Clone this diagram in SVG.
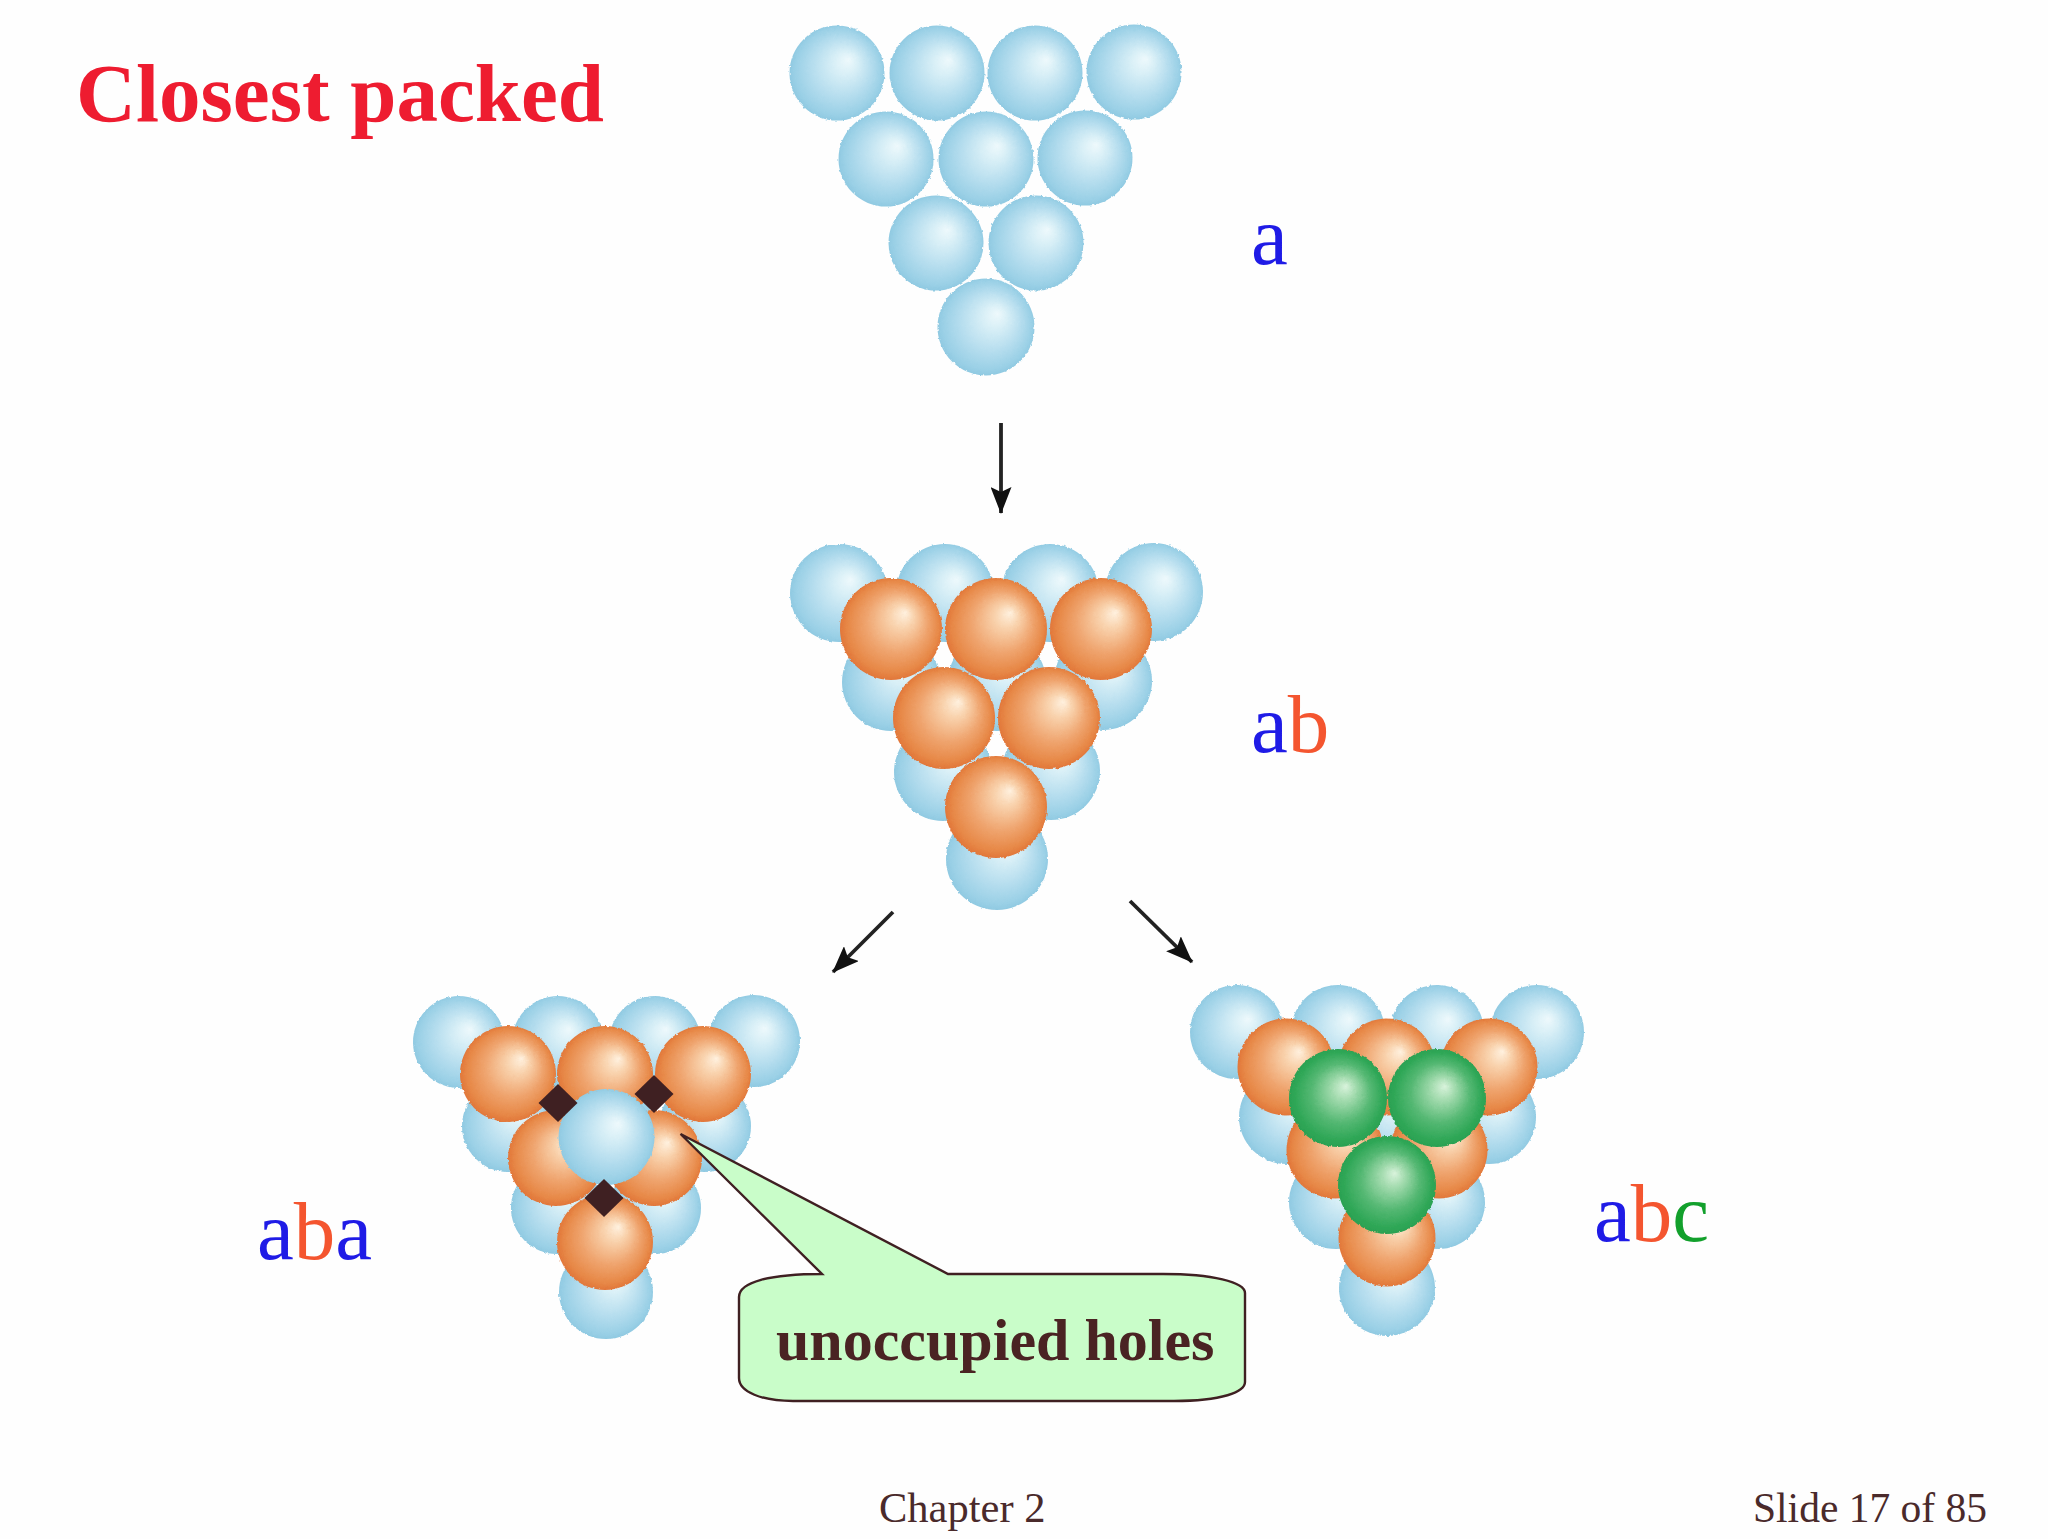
<svg xmlns="http://www.w3.org/2000/svg" width="2048" height="1539" viewBox="0 0 2048 1539">
<style>
.t{font-family:"Liberation Serif","Times New Roman",serif}
.lab{font-size:83px}
.foot{fill:#4a2a2b}
.A{fill:#1f1be6}.B{fill:#f4552f}.C{fill:#12a02c}
.conn{stroke:#222;stroke-width:3.800;fill:none;marker-end:url(#head)}
.bl{fill:url(#gb)}.or{fill:url(#go)}.gr{fill:url(#gg)}
.rough{filter:url(#rough)}
.dia{fill:#3f2022}
</style>
<defs>
<filter id="rough" x="-5%" y="-5%" width="110%" height="110%">
<feTurbulence type="fractalNoise" baseFrequency="0.3" numOctaves="2" seed="4" result="n"/>
<feDisplacementMap in="SourceGraphic" in2="n" scale="2.800" xChannelSelector="R" yChannelSelector="G"/>
</filter>
<radialGradient id="gb" cx="0.5" cy="0.5" r="0.52" fx="0.62" fy="0.36">
<stop offset="0" stop-color="#eef9fc"/><stop offset="0.22" stop-color="#daf0f7"/><stop offset="0.6" stop-color="#b5ddee"/><stop offset="0.88" stop-color="#9ad0e6"/><stop offset="1" stop-color="#8cc7e0"/>
</radialGradient>
<radialGradient id="go" cx="0.5" cy="0.5" r="0.52" fx="0.64" fy="0.34">
<stop offset="0" stop-color="#fff1df"/><stop offset="0.22" stop-color="#f9d3ae"/><stop offset="0.58" stop-color="#efa46e"/><stop offset="0.86" stop-color="#e78847"/><stop offset="1" stop-color="#e07236"/>
</radialGradient>
<radialGradient id="gg" cx="0.5" cy="0.5" r="0.52" fx="0.58" fy="0.38">
<stop offset="0" stop-color="#d9f3dc"/><stop offset="0.22" stop-color="#a5dcb0"/><stop offset="0.58" stop-color="#55b873"/><stop offset="0.86" stop-color="#2fa757"/><stop offset="1" stop-color="#2a9f50"/>
</radialGradient>
<marker id="head" viewBox="0 0 27 21" refX="26" refY="10.500" markerWidth="27" markerHeight="21" markerUnits="userSpaceOnUse" orient="auto">
<path d="M27 10.500L0 0L5 10.500L0 21Z" fill="#111"/>
</marker>
</defs>
<rect width="2048" height="1539" fill="#fefefe"/>
<g id="title"><text class="t" x="76" y="121" font-size="83" font-weight="700" fill="#ee1c30">Closest packed</text></g>

<g id="layer-a">
<g class="rough">
<g class="bl">
<circle cx="837" cy="73" r="47.500"/><circle cx="937" cy="73" r="47.500"/><circle cx="1035" cy="73" r="47.500"/><circle cx="1134" cy="72" r="47.500"/>
<circle cx="886" cy="159" r="47.500"/><circle cx="986" cy="159" r="47.500"/><circle cx="1085" cy="158" r="47.500"/>
<circle cx="936" cy="243" r="47.500"/><circle cx="1036" cy="243" r="47.500"/>
<circle cx="986" cy="327" r="48.500"/>
</g>
</g>
<text class="t lab A" x="1251" y="264">a</text>
</g>

<g id="layer-ab">
<g class="rough">
<g class="bl">
<circle cx="839" cy="593" r="49"/><circle cx="945" cy="593" r="49"/><circle cx="1050" cy="593" r="49"/><circle cx="1154" cy="592" r="49"/>
<circle cx="891" cy="682" r="49"/><circle cx="997" cy="682" r="49"/><circle cx="1103" cy="681" r="49"/>
<circle cx="943" cy="772" r="49"/><circle cx="1051" cy="771" r="49"/>
<circle cx="997" cy="859" r="51"/>
</g>
<g class="or">
<circle cx="891" cy="629" r="51"/><circle cx="996" cy="629" r="51"/><circle cx="1101" cy="629" r="51"/>
<circle cx="944" cy="718" r="51"/><circle cx="1049" cy="718" r="51"/>
<circle cx="996" cy="807" r="51"/>
</g>
</g>
<text class="t lab" x="1251" y="752"><tspan class="A">a</tspan><tspan class="B">b</tspan></text>
</g>

<g id="layer-aba">
<g class="rough">
<g class="bl">
<circle cx="459" cy="1042" r="46"/><circle cx="558" cy="1042" r="46"/><circle cx="655" cy="1042" r="46"/><circle cx="754" cy="1041" r="46"/>
<circle cx="508" cy="1126" r="46"/><circle cx="607" cy="1126" r="46"/><circle cx="705" cy="1126" r="46"/>
<circle cx="557" cy="1208" r="46"/><circle cx="655" cy="1208" r="46"/>
<circle cx="606" cy="1292" r="47"/>
</g>
<g class="or">
<circle cx="508" cy="1074" r="48"/><circle cx="605" cy="1074" r="48"/><circle cx="703" cy="1074" r="48"/>
<circle cx="556" cy="1158" r="48"/><circle cx="654" cy="1158" r="48"/>
<circle cx="605" cy="1242" r="48"/>
</g>
<circle class="bl" cx="606.500" cy="1137" r="48"/>
</g>
<path class="dia" d="M558 1084L577.500 1103L558 1122L538.500 1103Z"/>
<path class="dia" d="M654 1075L673.500 1094L654 1113L634.500 1094Z"/>
<path class="dia" d="M604 1179L623.500 1198L604 1217L584.500 1198Z"/>
<text class="t lab" x="257" y="1259"><tspan class="A">a</tspan><tspan class="B">b</tspan><tspan class="A">a</tspan></text>
</g>

<g id="layer-abc">
<g class="rough">
<g class="bl">
<circle cx="1237" cy="1032" r="47"/><circle cx="1338" cy="1032" r="47"/><circle cx="1437" cy="1032" r="47"/><circle cx="1537" cy="1032" r="47"/>
<circle cx="1286" cy="1117" r="47"/><circle cx="1387" cy="1117" r="47"/><circle cx="1489" cy="1117" r="47"/>
<circle cx="1336" cy="1202" r="47"/><circle cx="1438" cy="1202" r="47"/>
<circle cx="1387" cy="1288" r="48"/>
</g>
<g class="or">
<circle cx="1286" cy="1067" r="48.500"/><circle cx="1387" cy="1067" r="48.500"/><circle cx="1489" cy="1067" r="48.500"/>
<circle cx="1335" cy="1150" r="48.500"/><circle cx="1439" cy="1150" r="48.500"/>
<circle cx="1387" cy="1238" r="48.500"/>
</g>
<g class="gr">
<circle cx="1338" cy="1098" r="49"/><circle cx="1437" cy="1098" r="49"/>
<circle cx="1387" cy="1185" r="49"/>
</g>
</g>
<text class="t lab" x="1594" y="1241"><tspan class="A">a</tspan><tspan class="B">b</tspan><tspan class="C">c</tspan></text>
</g>

<g id="connectors">
<path class="conn" d="M1001 423L1001 513"/>
<path class="conn" d="M893 912L833 972"/>
<path class="conn" d="M1130 901L1192 962"/>
</g>

<g id="callout">
<path d="M680.600 1134L822 1274C770 1274 739 1282 739 1297L739 1378C739 1392 762 1401 793 1401L1174 1401C1222 1401 1245 1392 1245 1382L1245 1293C1245 1282 1212 1274 1163 1274L948 1274Z" fill="#c9fdc9" stroke="#3f2022" stroke-width="2.400" stroke-linejoin="miter"/>
<text class="t" x="776" y="1360" font-size="60" font-weight="700" fill="#4a2323">unoccupied holes</text>
</g>

<g id="footer">
<text class="t foot" x="879" y="1522" font-size="42.500">Chapter 2</text>
<text class="t foot" x="1753" y="1522" font-size="41.500">Slide 17 of 85</text>
</g>
</svg>
